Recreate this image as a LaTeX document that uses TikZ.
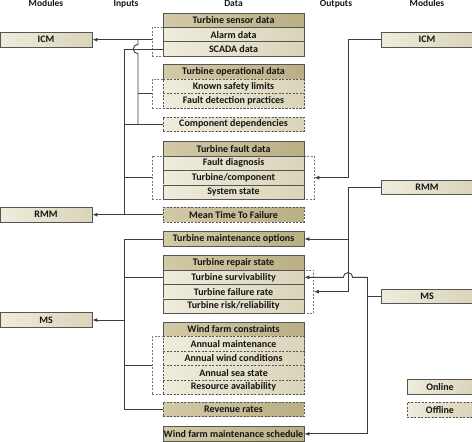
\documentclass[tikz,border=0pt]{standalone}
\usepackage{fontspec}
\setmainfont{Carlito}
\usetikzlibrary{arrows.meta}

\definecolor{rowL}{HTML}{EFECDC}
\definecolor{rowR}{HTML}{DAD4B9}
\definecolor{hdL}{HTML}{D3CAA6}
\definecolor{hdR}{HTML}{B9AE84}
\definecolor{edge}{HTML}{555555}
\definecolor{grpline}{HTML}{7A7A7A}
\definecolor{wireline}{HTML}{3C3C3C}
\definecolor{ink}{HTML}{141414}

\begin{document}
\begin{tikzpicture}[x=1pt,y=1pt,
    txt/.style={font=\fontsize{9.5}{10}\selectfont\bfseries, text=ink},
    box/.style={font=\fontsize{10}{11}\selectfont\bfseries, text=ink, draw=edge, line width=0.8pt,
        minimum width=141pt, minimum height=14.4pt, inner sep=0pt, left color=rowL, right color=rowR},
    hd/.style={box, left color=hdL, right color=hdR},
    off/.style={dash pattern=on 2pt off 1.5pt},
    mod/.style={box, minimum width=92pt},
    grp/.style={draw=grpline, line width=0.7pt, dash pattern=on 2pt off 1.5pt, inner sep=0pt},
    wire/.style={draw=wireline, line width=0.9pt},
    arr/.style={wire, -{Latex[length=5pt,width=4pt]}}]
    \useasboundingbox (0,0) rectangle (472,-442);

    %Headers
    \node[txt, anchor=base] (hmodL) at (46,-6.5) {Modules};
    \node[txt, anchor=base] (hin) at (126,-6.5) {Inputs};
    \node[txt, anchor=base] (hdata) at (233.5,-6.5) {Data};
    \node[txt, anchor=base] (hout) at (336,-6.5) {Outputs};
    \node[txt, anchor=base] (hmodR) at (427,-6.5) {Modules};

    %Groups
    \node[grp, minimum width=152pt, minimum height=28.8pt] (sensgrp) at (228,-41.8) {};
    \node[grp, minimum width=152pt, minimum height=28.8pt] (opgrp) at (228,-93.5) {};
    \node[grp, minimum width=162pt, minimum height=43.2pt] (faultgrp) at (233,-177.7) {};
    \node[grp, minimum width=150.5pt, minimum height=43.2pt] (repgrp) at (238.25,-291.7) {};
    \node[grp, minimum width=152pt, minimum height=57.6pt] (wfgrp) at (228,-365.5) {};

    %Data
    \node[hd] (sens) at (233.5,-20.2) {Turbine sensor data};
    \node[box] (alarm) at (233.5,-34.6) {Alarm data};
    \node[box] (scada) at (233.5,-49.0) {SCADA data};
    \node[hd] (oper) at (233.5,-71.9) {Turbine operational data};
    \node[box, off] (safety) at (233.5,-86.3) {Known safety limits};
    \node[box, off] (faultdet) at (233.5,-100.7) {Fault detection practices};
    \node[box, off] (compdep) at (233.5,-124.2) {Component dependencies};
    \node[hd] (fault) at (233.5,-148.9) {Turbine fault data};
    \node[box] (diag) at (233.5,-163.3) {Fault diagnosis};
    \node[box] (tcomp) at (233.5,-177.7) {Turbine/component};
    \node[box] (sysst) at (233.5,-192.1) {System state};
    \node[hd, off] (mttf) at (233.5,-214.7) {Mean Time To Failure};
    \node[hd] (opts) at (233.5,-239.0) {Turbine maintenance options};
    \node[hd] (repair) at (233.5,-262.9) {Turbine repair state};
    \node[box] (surv) at (233.5,-277.3) {Turbine survivability};
    \node[box] (frate) at (233.5,-291.7) {Turbine failure rate};
    \node[box] (risk) at (233.5,-306.1) {Turbine risk/reliability};
    \node[hd] (wfc) at (233.5,-329.5) {Wind farm constraints};
    \node[box, off] (amaint) at (233.5,-343.9) {Annual maintenance};
    \node[box, off] (awind) at (233.5,-358.3) {Annual wind conditions};
    \node[box, off] (asea) at (233.5,-372.7) {Annual sea state};
    \node[box, off] (resav) at (233.5,-387.1) {Resource availability};
    \node[hd, off] (revenue) at (233.5,-409.5) {Revenue rates};
    \node[hd] (sched) at (233.5,-433.9) {Wind farm maintenance schedule};

    %Modules
    \node[mod] (icmL) at (46,-39.7) {ICM};
    \node[mod] (rmmL) at (46,-214.7) {RMM};
    \node[mod] (msL) at (46,-320) {MS};
    \node[mod] (icmR) at (427,-39.7) {ICM};
    \node[mod] (rmmR) at (427,-187.2) {RMM};
    \node[mod] (msR) at (427,-296.5) {MS};
    \node[mod, minimum width=66pt] (online) at (440,-387) {Online};
    \node[mod, off, minimum width=66pt] (offline) at (440,-410) {Offline};

    %Lines
    \coordinate (inA) at (138,0);
    \coordinate (inB) at (124,0);
    \coordinate (outA) at (348,0);
    \coordinate (outB) at (367.5,0);

    % inputs
    \draw[arr] (icmL.east -| sensgrp.west) -- (icmL.east);
    \draw[wire] (inA |- icmL.east) -- ([yshift=4.7pt]inA |- scada.west)
        arc[start angle=90, end angle=270, radius=4.7pt] -- (inA |- compdep.west);
    \draw[wire] (inA |- opgrp.west) -- (opgrp.west);
    \draw[wire] (scada.west) -- (inB |- scada.west) -- (inB |- mttf.west);
    \draw[wire] (inB |- compdep.west) -- (compdep.west);
    \draw[wire] (inB |- faultgrp.west) -- (faultgrp.west);
    \draw[arr] (mttf.west) -- (rmmL.east);
    \draw[wire] (opts.west) -- (inB |- opts.west) -- (inB |- revenue.west) -- (revenue.west);
    \draw[wire] (inB |- surv.west) -- (surv.west);
    \draw[wire] (inB |- wfgrp.west) -- (wfgrp.west);
    \draw[arr] (inB |- msL.east) -- (msL.east);

    % outputs
    \draw[arr] (icmR.west) -- (outA |- icmR.west) -- (outA |- faultgrp.east) -- (faultgrp.east);
    \draw[arr] (rmmR.west) -- (outA |- rmmR.west) -- (outA |- repgrp.east) -- (repgrp.east);
    \draw[arr] (outA |- opts.east) -- (opts.east);
    \draw[wire] (msR.west) -- (outB |- msR.west);
    \draw[arr] (outB |- surv.east) -- ([xshift=4.7pt]outA |- surv.east)
        arc[start angle=0, end angle=180, radius=4.7pt] -- (surv.east);
    \draw[arr] (outB |- surv.east) -- (outB |- sched.east) -- (sched.east);
\end{tikzpicture}
\end{document}
